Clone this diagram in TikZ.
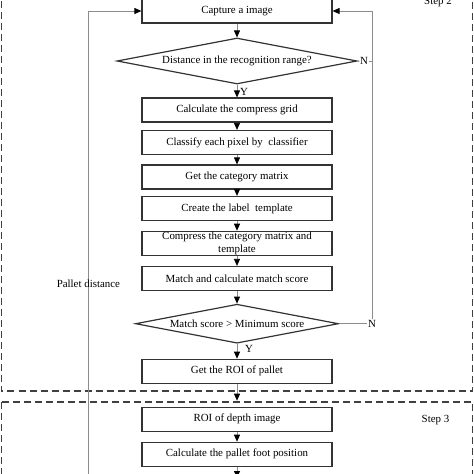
\documentclass[tikz,border=0pt]{standalone}
\usepackage{fontspec}
\setmainfont{Liberation Serif}
\usetikzlibrary{shapes.geometric,arrows.meta}
\begin{document}
\begin{tikzpicture}[x=1pt,y=-1pt,
  box/.style={draw=black!80,line width=1.2pt,minimum width=190pt,minimum height=24pt,inner sep=0pt,
    font=\fontsize{10.9}{13.3}\selectfont,text=black,align=center},
  dec/.style={diamond,draw=black!80,line width=1.2pt,inner sep=0pt,aspect=5,
    font=\fontsize{10.9}{13}\selectfont,text=black},
  conn/.style={draw=black!45,line width=0.8pt,-{Triangle[width=6pt,length=7pt,black]}},
  plain/.style={draw=black!45,line width=0.8pt},
  frame/.style={draw=black!75,line width=1.6pt,dash pattern=on 7pt off 4pt},
  lbl/.style={font=\fontsize{10.9}{12}\selectfont,inner sep=1pt,text=black}]
\useasboundingbox (0,0) rectangle (474,474);
% frames
\draw[frame] (1.5,-10) rectangle (472.5,391);
\draw[frame] (1.5,402) rectangle (472.5,490);
% nodes
\node[box] (cap) at (237,11) {Capture a image};
\node[dec,minimum width=240pt,minimum height=46pt] (d1) at (237,61) {Distance in the recognition range?};
\node[box] (grid) at (237,110) {Calculate the compress grid};
\node[box] (cls) at (237,142.5) {Classify each pixel by\ \ classifier};
\node[box] (cat) at (237,177) {Get the category matrix};
\node[box] (tpl) at (237,208.5) {Create the label\ \ template};
\node[box] (cmp) at (237,243.3) {Compress the category matrix and\\template};
\node[box] (match) at (237,278.5) {Match and calculate match score};
\node[dec,minimum width=203pt,minimum height=39pt] (d2) at (237,323.7) {Match score > Minimum score};
\node[box] (roi) at (237,371.3) {Get the ROI of pallet};
\node[box] (depth) at (237,419.3) {ROI of depth image};
\node[box] (foot) at (237,454.3) {Calculate the pallet foot position};
\coordinate (next) at (237,478);
\coordinate (pbot) at (88.7,480);
% connectors
\draw[conn] (cap) -- (d1);
\draw[conn] (d1) -- (grid);
\draw[conn] (grid) -- (cls);
\draw[conn] (cls) -- (cat);
\draw[conn] (cat) -- (tpl);
\draw[conn] (tpl) -- (cmp);
\draw[conn] (cmp) -- (match);
\draw[conn] (match) -- (d2);
\draw[conn] (d2) -- (roi);
\draw[conn,shorten >=6pt] (roi) -- (depth);
\draw[conn] (depth) -- (foot);
\draw[conn] (foot) -- (next);
\draw[conn] (pbot) |- (cap.west);
% labels
\node[lbl] (y1) at (244,92) {Y};
\node[lbl] (y2) at (249,349) {Y};
\node[lbl] (n1) at (364,61) {N};
\node[lbl] (n2) at (372,323.7) {N};
\node[lbl] (pd) at (88.4,283.3) {Pallet distance};
\node[lbl] (s3) at (435.5,419.7) {Step 3};
\node[lbl,anchor=base] (s2) at (438,4.5) {Step 2};
\draw[plain] (d1.east) -- (n1.west);
\draw[plain] (n1.east) -- (n2.north |- n1);
\draw[plain] (d2.east) -- (n2.west);
\draw[conn] (n2.north) |- (cap.east);
\end{tikzpicture}
\end{document}
